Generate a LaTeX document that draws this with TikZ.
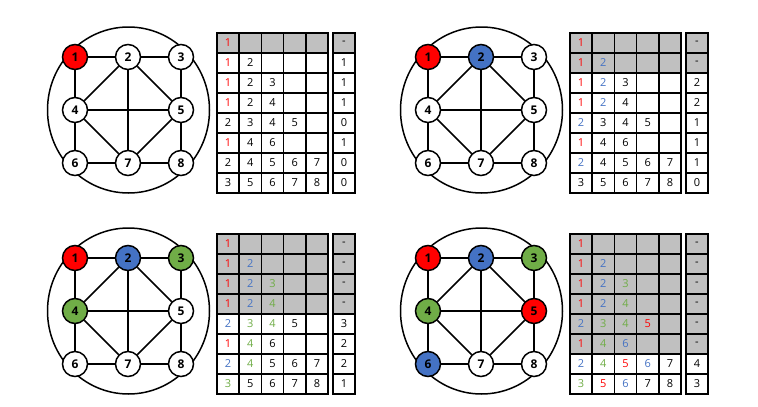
\documentclass[tikz,border=0pt]{standalone}
\usepackage{fontspec}
\setmainfont{Open Sans}
\definecolor{cr}{HTML}{FF0000}
\definecolor{cb}{HTML}{4472C4}
\definecolor{cg}{HTML}{70AD47}
\definecolor{cgr}{HTML}{C0C0C0}
\tikzset{vtx/.style={circle,draw,line width=1.5pt,minimum size=25pt,inner sep=0pt,font=\fontsize{12}{12}\selectfont\bfseries},
edge/.style={line width=1.5pt},
cell/.style={draw,line width=1.5pt,minimum width=22.2pt,minimum height=20pt,inner sep=0pt,font=\fontsize{11}{11}\selectfont}}
\newcommand\drawpanel[6]{%
\foreach \c [count=\i] in {#4} {\expandafter\xdef\csname nc\i\endcsname{\c}}%
\begin{scope}[shift={(#2,#3)}]
\draw[edge] (128.5,110) ellipse (81 and 83);
\foreach \i/\x/\y in {1/75/57,2/128/57,3/181/57,4/75/110,5/181/110,6/75/163,7/128/163,8/181/163}{
  \edef\cc{\csname nc\i\endcsname}
  \ifx\cc\empty\def\cc{white}\fi
  \node[vtx,fill=\cc] (#1\i) at (\x,\y) {\i};}
\foreach \a/\b in {1/2,2/3,1/4,2/4,2/7,2/5,3/5,4/5,4/6,4/7,5/7,5/8,6/7,7/8}
  \draw[edge] (#1\a) -- (#1\b);
\foreach \row [count=\r] in {{1},{1,2},{1,2,3},{1,2,4},{2,3,4,5},{1,4,6},{2,4,5,6,7},{3,5,6,7,8}}{
  \ifnum\r>#5 \def\fc{white}\else\def\fc{cgr}\fi
  \foreach \k in {1,...,5}
    \node[cell,fill=\fc] (#1c\r-\k) at (217+11.1+22.2*\k-22.2,23+20*\r) {};
  \foreach \v [count=\k] in \row {
    \edef\cc{\csname nc\v\endcsname}
    \ifx\cc\empty\def\cc{black}\fi
    \node[text=\cc,font=\fontsize{11}{11}\selectfont] at (#1c\r-\k) {\v};}
}
\foreach \v [count=\r] in {#6}{
  \ifnum\r>#5 \def\fc{white}\else\def\fc{cgr}\fi
  \node[cell,fill=\fc,minimum width=22pt] (#1v\r) at (344,23+20*\r) {\v};}
\end{scope}}
\begin{document}
\begin{tikzpicture}[x=1pt,y=-1pt]
\useasboundingbox (0,0) rectangle (758,407);
\drawpanel{a}{0}{0}{cr,,,,,,,}{1}{-,1,1,1,0,1,0,0}
\drawpanel{b}{353}{0}{cr,cb,,,,,,}{2}{-,-,2,2,1,1,1,0}
\drawpanel{c}{0}{201}{cr,cb,cg,cg,,,,}{4}{-,-,-,-,3,2,2,1}
\drawpanel{d}{353}{201}{cr,cb,cg,cg,cr,cb,,}{6}{-,-,-,-,-,-,4,3}
\end{tikzpicture}
\end{document}
